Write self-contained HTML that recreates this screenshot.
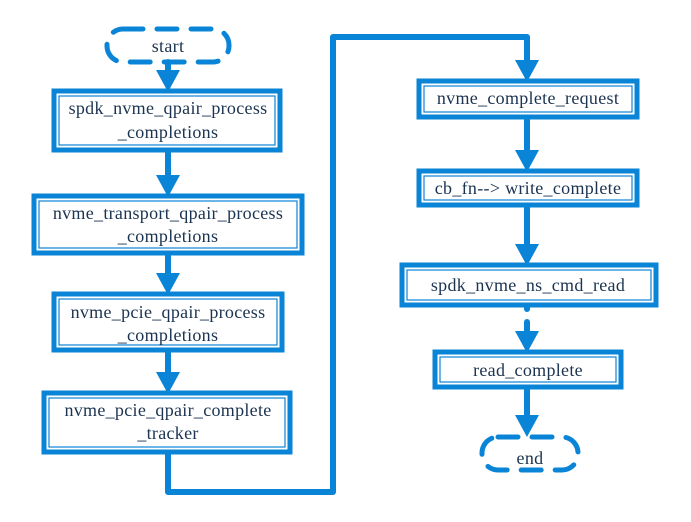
<!DOCTYPE html>
<html><head><style>
body{margin:0;background:#fff;width:691px;height:517px;overflow:hidden}
</style></head><body>
<svg width="691" height="517" viewBox="0 0 691 517">
<g fill="none" stroke="#0a84d6" stroke-linecap="round" stroke-linejoin="round">
<rect x="107" y="29" width="122" height="33" rx="16" stroke-width="5" stroke-dasharray="20 14"/>
<rect x="482" y="437" width="96" height="33" rx="16" stroke-width="5" stroke-dasharray="20 14"/>
<g stroke-width="6">
<line x1="168" y1="62" x2="168" y2="74"/>
<line x1="168" y1="150" x2="168" y2="178"/>
<line x1="168" y1="253" x2="168" y2="276"/>
<line x1="168" y1="350" x2="168" y2="375"/>
<polyline points="168,452 168,492 333,492 333,37 527,37 527,62"/>
<line x1="527" y1="117" x2="527" y2="153"/>
<line x1="527" y1="205" x2="527" y2="247"/>
<line x1="527" y1="305" x2="527" y2="309"/>
<line x1="527" y1="322" x2="527" y2="334"/>
<line x1="527" y1="387" x2="527" y2="418"/>
</g>
</g>
<g fill="#0a84d6">
<polygon points="156,70 180,70 168,92"/>
<polygon points="156,175 180,175 168,197"/>
<polygon points="156,273 180,273 168,295"/>
<polygon points="156,372 180,372 168,394"/>
<polygon points="515,60 539,60 527,82"/>
<polygon points="515,150 539,150 527,172"/>
<polygon points="515,244 539,244 527,266"/>
<polygon points="515,331 539,331 527,353"/>
<polygon points="515,415 539,415 527,437"/>
</g>
<g fill="#fff" stroke="#0a84d6">
<rect x="54" y="91" width="226" height="59" stroke-width="5"/>
<rect x="34" y="196" width="268" height="57" stroke-width="5"/>
<rect x="54" y="294" width="228" height="56" stroke-width="5"/>
<rect x="44" y="393" width="246" height="59" stroke-width="5"/>
<rect x="419" y="81" width="218" height="36" stroke-width="5"/>
<rect x="419" y="171" width="218" height="34" stroke-width="5"/>
<rect x="402" y="265" width="254" height="40" stroke-width="5"/>
<rect x="435" y="352" width="186" height="35" stroke-width="5"/>
</g>
<g fill="none" stroke="#0a84d6" stroke-width="1.2">
<rect x="59" y="96" width="216" height="49"/>
<rect x="39" y="201" width="258" height="47"/>
<rect x="59" y="299" width="218" height="46"/>
<rect x="49" y="398" width="236" height="49"/>
<rect x="424" y="86" width="208" height="26"/>
<rect x="424" y="176" width="208" height="24"/>
<rect x="407" y="270" width="244" height="30"/>
<rect x="440" y="357" width="176" height="25"/>
</g>
<g font-family="Liberation Serif, serif" font-size="18" fill="#1b3350" text-anchor="middle" letter-spacing="0.3">
<text x="168" y="52">start</text>
<text x="168" y="114">spdk_nvme_qpair_process</text>
<text x="168" y="138">_completions</text>
<text x="168" y="219">nvme_transport_qpair_process</text>
<text x="168" y="242">_completions</text>
<text x="168" y="318">nvme_pcie_qpair_process</text>
<text x="168" y="341">_completions</text>
<text x="168" y="416">nvme_pcie_qpair_complete</text>
<text x="168" y="439">_tracker</text>
<text x="528" y="104">nvme_complete_request</text>
<text x="528" y="194">cb_fn--&gt; write_complete</text>
<text x="528" y="291">spdk_nvme_ns_cmd_read</text>
<text x="528" y="376">read_complete</text>
<text x="530" y="464">end</text>
</g>
</svg>
</body></html>
